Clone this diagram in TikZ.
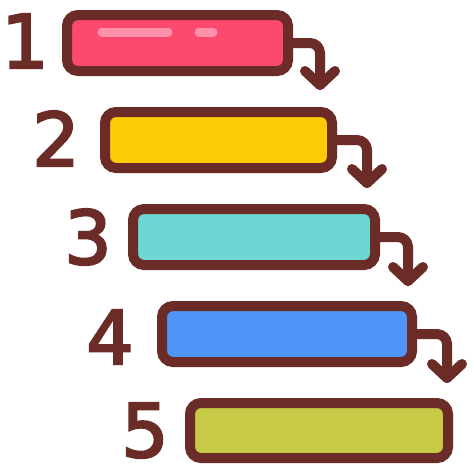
\documentclass[tikz,border=0pt]{standalone}
\usepackage{fontspec}
\newfontfamily\digitfont[FakeBold=3.2]{DejaVu Sans}
\usetikzlibrary{calc}
\definecolor{outline}{HTML}{6B2B27}
\definecolor{barA}{HTML}{FB4A6D}
\definecolor{barAhi}{HTML}{FF92AA}
\definecolor{barB}{HTML}{FDCB08}
\definecolor{barC}{HTML}{6DD8D3}
\definecolor{barD}{HTML}{5096F8}
\definecolor{barE}{HTML}{C6CA45}
\begin{document}
\begin{tikzpicture}[x=1pt,y=-1pt]
\useasboundingbox[fill=white] (0,0) rectangle (474,474);
\tikzset{
  bar/.style={draw=outline, line width=10pt, rounded corners=11pt, outer sep=0pt, inner sep=0pt, minimum height=56pt},
  flow/.style={draw=outline, line width=10pt, rounded corners=10pt, line cap=round, line join=round},
  chev/.style={draw=outline, line width=10pt, line cap=round, line join=round},
  hilite/.style={draw=barAhi, line width=9pt, line cap=round},
  digit/.style={text=outline, font=\digitfont\fontsize{74}{74}\selectfont, anchor=base, inner sep=0pt}
}
% bars
\node[bar, fill=barA, minimum width=221pt] (b1) at (177.5,43) {};
\node[bar, fill=barB, minimum width=227pt] (b2) at (218.5,140) {};
\node[bar, fill=barC, minimum width=242pt] (b3) at (254,237) {};
\node[bar, fill=barD, minimum width=250pt] (b4) at (287,334) {};
\node[bar, fill=barE, minimum width=258pt, minimum height=55pt] (b5) at (319,430.5) {};
% highlights on bar 1
\draw[hilite] (102,32) -- (168,32);
\draw[hilite] (199,32) -- (213,32);
% arrow tips
\coordinate (a1) at (320,85);
\coordinate (a2) at (367,183);
\coordinate (a3) at (408,281);
\coordinate (a4) at (447,378);
\foreach \i in {1,2,3,4}{
  \draw[flow] (b\i.east) -| (a\i);
  \draw[chev] ($(a\i)+(-15,-14)$) -- (a\i) -- ++(15,-14);
}
% digits
\node[digit] (n1) at (25,68) {1};
\node[digit] (n2) at (56,166) {2};
\node[digit] (n3) at (88,264) {3};
\node[digit] (n4) at (110,364) {4};
\node[digit] (n5) at (145,457) {5};
\end{tikzpicture}
\end{document}
